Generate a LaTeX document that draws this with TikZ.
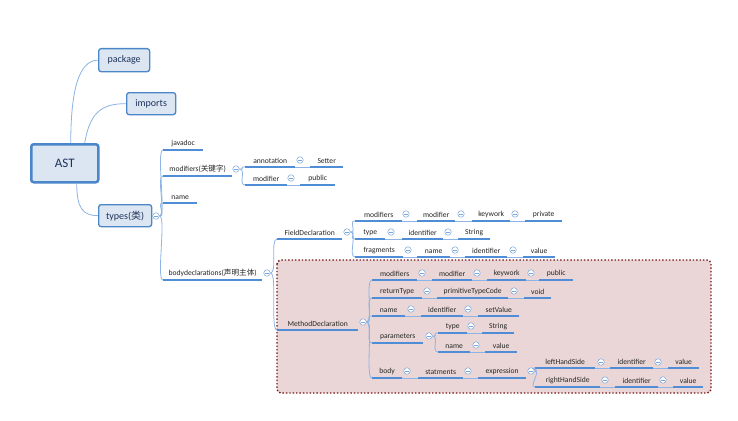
\documentclass[tikz,border=0pt]{standalone}
\usepackage{fontspec}
\setmainfont{Carlito}
\newfontfamily\cjk{Noto Sans CJK SC}
\definecolor{ulc}{RGB}{79,141,214}
\definecolor{cnc}{RGB}{140,180,230}
\definecolor{ccc}{RGB}{120,165,220}
\definecolor{mbd}{RGB}{74,134,200}
\definecolor{mbf}{RGB}{220,230,242}
\definecolor{mbt}{RGB}{30,50,90}
\definecolor{bxf}{RGB}{234,214,214}
\definecolor{bxd}{RGB}{120,20,20}
\begin{document}
\begin{tikzpicture}[x=1pt,y=-1pt,
  tp/.style={inner xsep=0pt,inner ysep=3pt,font=\fontsize{7.6}{8}\selectfont,text=black!85},
  ul/.style={draw=ulc,line width=1.3pt},
  cn/.style={draw=cnc,line width=0.8pt},
  cc/.style={circle,draw=ccc,fill=white,line width=0.5pt,minimum size=6.5pt,inner sep=0pt,
    path picture={\draw[ccc,line width=0.5pt] ([xshift=-1.8pt]path picture bounding box.center)--([xshift=1.8pt]path picture bounding box.center);}},
  mb/.style={draw=mbd,fill=mbf,rounded corners=2.5pt,line width=1.3pt,font=\fontsize{10}{11}\selectfont,text=mbt,inner sep=0pt}
]
\newcommand\tp[5]{\node[tp,minimum width=#3pt-#2pt,anchor=south west] (#1) at (#2,#4) {#5};\draw[ul] (#1.south west)--(#1.south east);}
\newcommand\cc[3]{\node[cc] (#1) at (#2,#3) {};}
\newcommand\lk[2]{\draw[cn] (#1.east) .. controls +(7,0) and +(-7,0) .. (#2.south west);}
\newcommand\ch[2]{\draw[cn,line width=0.6pt] (#1.south east) -- (#2.south west);}
\useasboundingbox[fill=white] (0,0) rectangle (738,420);
% dotted box
\draw[fill=bxf,draw=bxd,line width=1.4pt,dotted,rounded corners=4pt] (277,260) rectangle (711,393);
% main nodes
\node[mb,line width=2.5pt,minimum width=67pt,minimum height=38pt,font=\fontsize{13}{15}\selectfont,anchor=north west] (ast) at (30,143) {AST};
\node[mb,minimum width=51pt,minimum height=23pt,anchor=north west] (pkg) at (98,48) {package};
\node[mb,minimum width=49pt,minimum height=22pt,anchor=north west] (imp) at (126,92) {imports};
\node[mb,minimum width=53pt,minimum height=22pt,anchor=north west] (typ) at (98,204) {types({\cjk 类})};
\draw[cn] ([xshift=6pt]ast.north) .. controls +(0,-50) and +(-20,0) .. (pkg.west);
\draw[cn] ([xshift=20pt]ast.north) .. controls +(5,-30) and +(-25,0) .. (imp.west);
\draw[cn] ([xshift=12pt]ast.south) .. controls +(0,25) and +(-15,0) .. (typ.west);
\cc{ctyp}{156}{216}
% types children
\tp{jd}{163}{203}{150}{javadoc}
\tp{mod}{163}{232}{176}{modifiers({\cjk 关键字})}
\tp{nm}{163}{197}{203}{name}
\tp{bd}{163}{262}{280}{bodydeclarations({\cjk 声明主体})}
\foreach \c in {jd,mod,nm,bd}{\lk{ctyp}{\c}}
\cc{cmod}{236}{169}
\tp{ann}{245}{295}{167}{annotation}\lk{cmod}{ann}
\tp{mdf}{245}{287}{185}{modifier}\lk{cmod}{mdf}
\cc{cann}{300}{160}\tp{set}{310}{343}{167}{Setter}\ch{ann}{set}
\cc{cmdf}{291}{178}\tp{pub}{300}{335}{185}{public}\ch{mdf}{pub}
\cc{cbd}{267}{273}
\tp{fd}{277}{342}{239}{FieldDeclaration}\lk{cbd}{fd}
\tp{md}{277}{358}{330}{MethodDeclaration}\lk{cbd}{md}
% field declaration
\cc{cfd}{347}{232}
\tp{f1}{355}{402}{221}{modifiers}\lk{cfd}{f1}
\tp{f2}{355}{385}{239}{type}\lk{cfd}{f2}
\tp{f3}{355}{403}{257}{fragments}\lk{cfd}{f3}
\cc{cf1}{406}{214}\tp{f1a}{417}{455}{221}{modifier}\ch{f1}{f1a}
\cc{cf1a}{461}{214}\tp{f1b}{472}{510}{221}{keywork}\ch{f1a}{f1b}
\cc{cf1b}{515}{214}\tp{f1c}{525}{562}{221}{private}\ch{f1b}{f1c}
\cc{cf2}{391}{232}\tp{f2a}{402}{443}{239}{identifier}\ch{f2}{f2a}
\cc{cf2a}{448}{232}\tp{f2b}{458}{490}{239}{String}\ch{f2a}{f2b}
\cc{cf3}{408}{250}\tp{f3a}{417}{450}{257}{name}\ch{f3}{f3a}
\cc{cf3a}{455}{250}\tp{f3b}{465}{507}{257}{identifier}\ch{f3a}{f3b}
\cc{cf3b}{513}{250}\tp{f3c}{523}{555}{257}{value}\ch{f3b}{f3c}
% method declaration
\cc{cmd}{363}{322}
\tp{m1}{372}{417}{280}{modifiers}\lk{cmd}{m1}
\tp{m2}{372}{422}{298}{returnType}\lk{cmd}{m2}
\tp{m3}{372}{405}{316}{name}\lk{cmd}{m3}
\tp{m4}{372}{423}{343}{parameters}\lk{cmd}{m4}
\tp{m5}{372}{402}{378}{body}\lk{cmd}{m5}
\cc{cm1}{422}{273}\tp{m1a}{432}{472}{280}{modifier}\ch{m1}{m1a}
\cc{cm1a}{477}{273}\tp{m1b}{487}{526}{280}{keywork}\ch{m1a}{m1b}
\cc{cm1b}{531}{273}\tp{m1c}{539}{573}{280}{public}\ch{m1b}{m1c}
\cc{cm2}{427}{291}\tp{m2a}{437}{508}{298}{primitiveTypeCode}\ch{m2}{m2a}
\cc{cm2a}{514}{291}\tp{m2b}{524}{551}{298}{void}\ch{m2a}{m2b}
\cc{cm3}{411}{309}\tp{m3a}{421}{463}{316}{identifier}\ch{m3}{m3a}
\cc{cm3a}{468}{309}\tp{m3b}{478}{519}{316}{setValue}\ch{m3a}{m3b}
\cc{cm4}{429}{336}
\tp{p1}{438}{467}{333}{type}\lk{cm4}{p1}
\tp{p2}{438}{470}{352}{name}\lk{cm4}{p2}
\cc{cp1}{471}{326}\tp{p1a}{482}{514}{333}{String}\ch{p1}{p1a}
\cc{cp2}{476}{345}\tp{p2a}{485}{517}{352}{value}\ch{p2}{p2a}
\cc{cm5}{407}{371}\tp{m5a}{418}{463}{378}{statments}\ch{m5}{m5a}
\cc{cm5a}{468}{371}\tp{m5b}{478}{526}{378}{expression}\ch{m5a}{m5b}
\cc{cm5b}{531}{371}
\tp{l1}{535}{595}{368}{leftHandSide}\lk{cm5b}{l1}
\tp{r1}{535}{600}{387}{rightHandSide}\lk{cm5b}{r1}
\cc{cl1}{601}{362}\tp{l2}{610}{653}{368}{identifier}\ch{l1}{l2}
\cc{cl2}{658}{362}\tp{l3}{668}{699}{368}{value}\ch{l2}{l3}
\cc{cr1}{605}{380}\tp{r2}{615}{658}{387}{identifier}\ch{r1}{r2}
\cc{cr2}{663}{380}\tp{r3}{673}{703}{387}{value}\ch{r2}{r3}
\end{tikzpicture}
\end{document}
